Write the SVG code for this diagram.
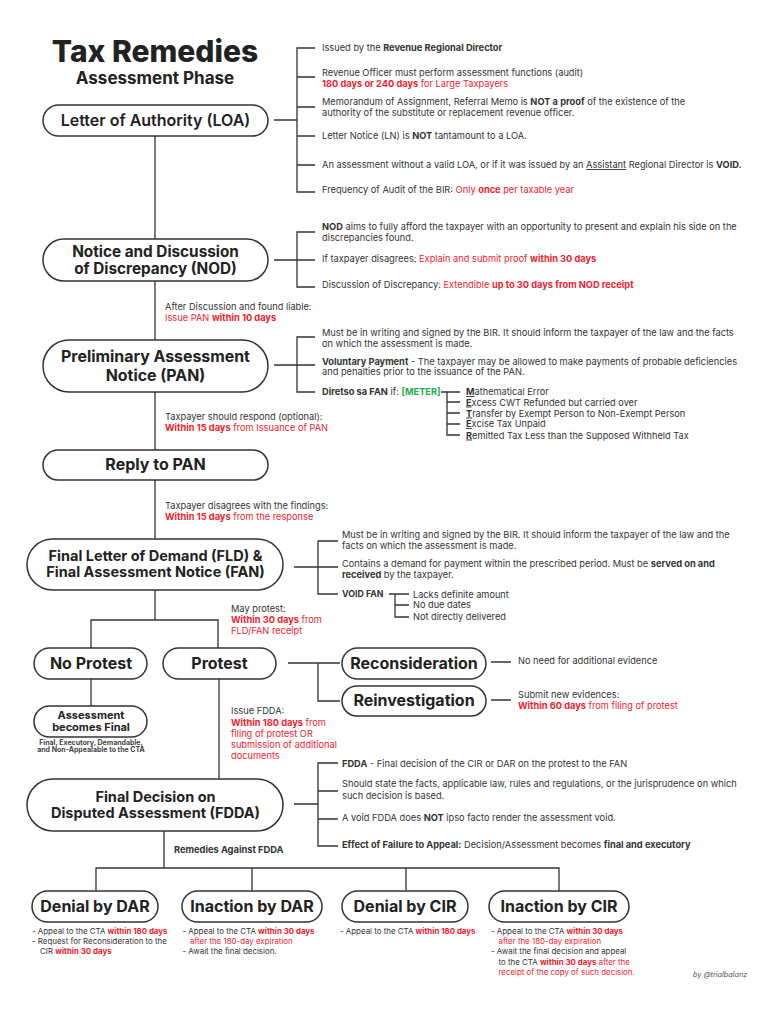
<svg xmlns="http://www.w3.org/2000/svg" width="768" height="1024" viewBox="0 0 768 1024">
<style>
text{font-family:"Inter","Noto Sans","Liberation Sans",sans-serif;fill:#333}
.n{fill:#fff;stroke:#333;stroke-width:1.5}
.c{fill:none;stroke:#333;stroke-width:1.3}
.h{font-weight:700;fill:#222;text-anchor:middle;font-size:15px}
.t{font-size:9.25px}
.s{font-size:7.9px}
.m{font-size:9.2px}
.b{font-weight:700}
.r{fill:#f5222d}
.g{fill:#1fae4f;font-weight:700}
.u{text-decoration:underline}
</style>
<rect width="768" height="1024" fill="#fff"/>
<g id="title">
<text x="155" y="62" text-anchor="middle" style="font-size:30px;font-weight:800;fill:#222">Tax Remedies</text>
<text x="155" y="84" text-anchor="middle" style="font-size:17px;font-weight:700;fill:#222">Assessment Phase</text>
</g>
<g id="connectors">
<path class="c" d="M155 136V239M155 281V340M155 392V450M155 480V539M155 590V620M91 648V620H218V648M91 679V706M219 679V779M164 831V868M96 891V868H559V891M252 868V891M406 868V891"/>
<path class="c" d="M274 120H297M315 48H297V192H315M297 77H315M297 107H315M297 136H315M297 165H315"/>
<path class="c" d="M274 260H297M315 232H297V287H315M297 260H315"/>
<path class="c" d="M274 365H297M315 337H297V392H315M297 365H315"/>
<path class="c" d="M441 392H460M447 392V435H460M447 402H460M447 413H460M447 424H460"/>
<path class="c" d="M294 567H318M338 541H318V594H338M318 567H338"/>
<path class="c" d="M389 594H409M395 594V617H409M395 605H409"/>
<path class="c" d="M288 663H340M318 663V701H340"/>
<path class="c" d="M491 662H511M491 700H511"/>
<path class="c" d="M294 804H318M338 763H318V846H338M318 791H338M318 819H338"/>
</g>
<g id="loa">
<rect class="n" x="43" y="105" width="225" height="31" rx="15.5"/>
<text class="h" x="155.5" y="126" style="font-size:16px;font-weight:600">Letter of Authority (LOA)</text>
<text class="t" x="322" y="50.5">Issued by the <tspan class="b">Revenue Regional Director</tspan></text>
<text class="t" x="322" y="76">Revenue Officer must perform assessment functions (audit)</text>
<text class="t" x="322" y="87"><tspan class="r b">180 days or 240 days</tspan><tspan class="r"> for Large Taxpayers</tspan></text>
<text class="t" x="322" y="105">Memorandum of Assignment, Referral Memo is <tspan class="b">NOT a proof</tspan> of the existence of the</text>
<text class="t" x="322" y="116">authority of the substitute or replacement revenue officer.</text>
<text class="t" x="322" y="139">Letter Notice (LN) is <tspan class="b">NOT</tspan> tantamount to a LOA.</text>
<text class="t" x="322" y="168">An assessment without a valid LOA, or if it was issued by an <tspan class="u">Assistant</tspan> Regional Director is <tspan class="b">VOID.</tspan></text>
<text class="t" x="322" y="193">Frequency of Audit of the BIR: <tspan class="r">Only </tspan><tspan class="r b">once</tspan><tspan class="r"> per taxable year</tspan></text>
</g>
<g id="nod">
<rect class="n" x="43" y="239" width="225" height="42" rx="21"/>
<text class="h" x="155.5" y="257" style="font-size:15.3px">Notice and Discussion</text>
<text class="h" x="155.5" y="274" style="font-size:15.3px">of Discrepancy (NOD)</text>
<text class="t" x="322" y="230"><tspan class="b">NOD</tspan> aims to fully afford the taxpayer with an opportunity to present and explain his side on the</text>
<text class="t" x="322" y="241">discrepancies found.</text>
<text class="t" x="322" y="261.5">If taxpayer disagrees: <tspan class="r">Explain and submit proof </tspan><tspan class="r b">within 30 days</tspan></text>
<text class="t" x="322" y="288">Discussion of Discrepancy: <tspan class="r">Extendible </tspan><tspan class="r b">up to 30 days from NOD receipt</tspan></text>
<text class="t" x="165" y="310">After Discussion and found liable:</text>
<text class="t" x="165" y="321"><tspan class="r">Issue PAN </tspan><tspan class="r b">within 10 days</tspan></text>
</g>
<g id="pan">
<rect class="n" x="43" y="340" width="225" height="52" rx="26"/>
<text class="h" x="155.5" y="362" style="font-size:15.9px">Preliminary Assessment</text>
<text class="h" x="155.5" y="381" style="font-size:15.9px">Notice (PAN)</text>
<text class="t" x="322" y="335.5">Must be in writing and signed by the BIR. It should inform the taxpayer of the law and the facts</text>
<text class="t" x="322" y="346.5">on which the assessment is made.</text>
<text class="t" x="322" y="364.5"><tspan class="b">Voluntary Payment</tspan> - The taxpayer may be allowed to make payments of probable deficiencies</text>
<text class="t" x="322" y="375">and penalties prior to the issuance of the PAN.</text>
<text class="t" x="322" y="395"><tspan class="b">Diretso sa FAN</tspan> if: <tspan class="g">[METER]</tspan></text>
<text class="m" x="466" y="395"><tspan class="b u">M</tspan>athematical Error</text>
<text class="m" x="466" y="405.5"><tspan class="b u">E</tspan>xcess CWT Refunded but carried over</text>
<text class="m" x="466" y="416.5"><tspan class="b u">T</tspan>ransfer by Exempt Person to Non-Exempt Person</text>
<text class="m" x="466" y="427"><tspan class="b u">E</tspan>xcise Tax Unpaid</text>
<text class="m" x="466" y="438.5"><tspan class="b u">R</tspan>emitted Tax Less than the Supposed Withheld Tax</text>
<text class="t" x="165" y="419.5">Taxpayer should respond (optional):</text>
<text class="t" x="165" y="431"><tspan class="r b">Within 15 days</tspan><tspan class="r"> from Issuance of PAN</tspan></text>
</g>
<g id="reply">
<rect class="n" x="43" y="450" width="225" height="30" rx="15"/>
<text class="h" x="155.5" y="470" style="font-size:16px">Reply to PAN</text>
<text class="t" x="165" y="508.5">Taxpayer disagrees with the findings:</text>
<text class="t" x="165" y="519.5"><tspan class="r b">Within 15 days</tspan><tspan class="r"> from the response</tspan></text>
</g>
<g id="fld">
<rect class="n" x="27" y="539" width="256" height="51" rx="25.5"/>
<text class="h" x="155.5" y="561" style="font-size:14.5px">Final Letter of Demand (FLD) &amp;</text>
<text class="h" x="155.5" y="577" style="font-size:14.5px">Final Assessment Notice (FAN)</text>
<text class="t" x="342" y="538">Must be in writing and signed by the BIR. It should inform the taxpayer of the law and the</text>
<text class="t" x="342" y="549">facts on which the assessment is made.</text>
<text class="t" x="342" y="567">Contains a demand for payment within the prescribed period. Must be <tspan class="b">served on and</tspan></text>
<text class="t" x="342" y="578"><tspan class="b">received</tspan> by the taxpayer.</text>
<text class="t b" x="342" y="596.5" style="font-size:8.8px">VOID FAN</text>
<text class="m" x="413" y="597.5">Lacks definite amount</text>
<text class="m" x="413" y="608">No due dates</text>
<text class="m" x="413" y="619.5">Not directly delivered</text>
<text class="t" x="231" y="612">May protest:</text>
<text class="t" x="231" y="622.5"><tspan class="r b">Within 30 days</tspan><tspan class="r"> from</tspan></text>
<text class="t r" x="231" y="633.5">FLD/FAN receipt</text>
</g>
<g id="noprotest">
<rect class="n" x="34" y="648" width="113" height="31" rx="15.5"/>
<text class="h" x="91" y="669" style="font-size:16px">No Protest</text>
</g>
<g id="final">
<rect class="n" x="34" y="706" width="113" height="31" rx="15.5"/>
<text class="h" x="91" y="719" style="font-size:11px">Assessment</text>
<text class="h" x="91" y="731" style="font-size:11px">becomes Final</text>
<text class="b" x="91" y="744.5" text-anchor="middle" style="font-size:7px;fill:#444">Final, Executory, Demandable,</text>
<text class="b" x="91" y="752" text-anchor="middle" style="font-size:7px;fill:#444">and Non-Appealable to the CTA</text>
</g>
<g id="protest">
<rect class="n" x="163" y="648" width="113" height="31" rx="15.5"/>
<text class="h" x="219.5" y="669" style="font-size:16px">Protest</text>
<text class="t" x="231" y="714">Issue FDDA:</text>
<text class="t" x="231" y="726"><tspan class="r b">Within 180 days</tspan><tspan class="r"> from</tspan></text>
<text class="t r" x="231" y="737">filing of protest OR</text>
<text class="t r" x="231" y="748">submission of additional</text>
<text class="t r" x="231" y="759">documents</text>
</g>
<g id="recon">
<rect class="n" x="342" y="648" width="144" height="31" rx="15.5"/>
<text class="h" x="414" y="669" style="font-size:16px">Reconsideration</text>
<text class="t" x="518" y="663.5">No need for additional evidence</text>
</g>
<g id="reinv">
<rect class="n" x="342" y="686" width="144" height="30" rx="15"/>
<text class="h" x="414" y="706" style="font-size:16px">Reinvestigation</text>
<text class="t" x="518" y="697.5">Submit new evidences:</text>
<text class="t" x="518" y="708.5"><tspan class="r b">Within 60 days</tspan><tspan class="r"> from filing of protest</tspan></text>
</g>
<g id="fdda">
<rect class="n" x="27" y="779" width="256" height="52" rx="26"/>
<text class="h" x="155.5" y="801.5" style="font-size:14.5px">Final Decision on</text>
<text class="h" x="155.5" y="817.5" style="font-size:14.5px">Disputed Assessment (FDDA)</text>
<text class="t" x="342" y="766.5"><tspan class="b">FDDA</tspan> - Final decision of the CIR or DAR on the protest to the FAN</text>
<text class="t" x="342" y="787">Should state the facts, applicable law, rules and regulations, or the jurisprudence on which</text>
<text class="t" x="342" y="798.5">such decision is based.</text>
<text class="t" x="342" y="821">A void FDDA does <tspan class="b">NOT</tspan> ipso facto render the assessment void.</text>
<text class="t" x="342" y="848"><tspan class="b">Effect of Failure to Appeal:</tspan> Decision/Assessment becomes <tspan class="b">final and executory</tspan></text>
<text class="t b" x="174" y="853" style="font-size:9.3px">Remedies Against FDDA</text>
</g>
<g id="denialdar">
<rect class="n" x="32" y="891" width="126" height="31" rx="15.5"/>
<text class="h" x="95" y="912" style="font-size:16px">Denial by DAR</text>
<text class="s" x="32" y="933.5">- Appeal to the CTA <tspan class="r b">within 180 days</tspan></text>
<text class="s" x="32" y="943.5">- Request for Reconsideration to the</text>
<text class="s" x="40" y="954">CIR <tspan class="r b">within 30 days</tspan></text>
</g>
<g id="inactiondar">
<rect class="n" x="182" y="891" width="140" height="31" rx="15.5"/>
<text class="h" x="252" y="912" style="font-size:16px">Inaction by DAR</text>
<text class="s" x="182.5" y="933.5">- Appeal to the CTA <tspan class="r b">within 30 days</tspan></text>
<text class="s r" x="190" y="943.5">after the 180-day expiration</text>
<text class="s" x="182.5" y="954">- Await the final decision.</text>
</g>
<g id="denialcir">
<rect class="n" x="342" y="891" width="126" height="31" rx="15.5"/>
<text class="h" x="405" y="912" style="font-size:16px">Denial by CIR</text>
<text class="s" x="340" y="933.5">- Appeal to the CTA <tspan class="r b">within 180 days</tspan></text>
</g>
<g id="inactioncir">
<rect class="n" x="489" y="891" width="140" height="31" rx="15.5"/>
<text class="h" x="559" y="912" style="font-size:16px">Inaction by CIR</text>
<text class="s" x="491" y="933.5">- Appeal to the CTA <tspan class="r b">within 30 days</tspan></text>
<text class="s r" x="498.5" y="943.5">after the 180-day expiration</text>
<text class="s" x="491" y="954">- Await the final decision and appeal</text>
<text class="s" x="498.5" y="964.5">to the CTA <tspan class="r b">within 30 days</tspan><tspan class="r"> after the</tspan></text>
<text class="s r" x="498.5" y="975">receipt of the copy of such decision.</text>
</g>
<text x="693" y="977" style="font-size:7.3px;font-style:italic;fill:#555">by @trialbalanz</text>
</svg>
